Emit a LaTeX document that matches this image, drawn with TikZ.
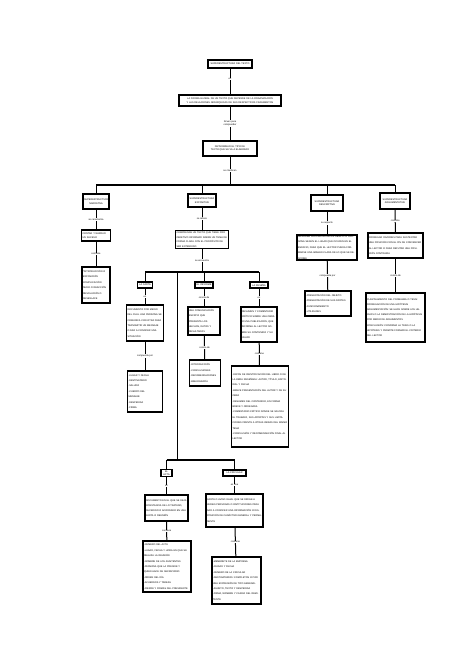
\documentclass[tikz,border=0pt]{standalone}
\usepackage{fontspec}
\setmainfont{Liberation Sans}

\begin{document}
\begin{tikzpicture}[x=1pt, y=-1pt,
  box/.style={draw, line width=1.4pt, inner sep=1pt, align=left,
    font=\fontsize{2.4}{4.6}\selectfont},
  tbox/.style={box, align=center, font=\fontsize{2.4}{3.6}\selectfont},
  lbl/.style={fill=white, inner sep=0.6pt, align=center,
    font=\fontsize{2.4}{3.4}\selectfont},
  conn/.style={line width=1pt},
  busline/.style={line width=1.2pt}]
  \useasboundingbox (0,0) rectangle (474,670);

  \node[tbox, text width=42pt, minimum height=8pt] (text) at (230,64) {SUPERESTRUCTURA DEL TEXTO};
  \node[tbox, text width=100pt, minimum height=11pt] (forma) at (230,100.5)
    {LA FORMA GLOBAL DE UN TEXTO QUE DEPENDE DE LA ORGANIZACIÓN Y LAS RELACIONES JERÁRQUICAS DE SUS RESPECTIVOS FRAGMENTOS};
  \node[tbox, text width=52pt, minimum height=15pt] (tipo) at (230,148.5)
    {DETERMINAR EL TIPO DE TEXTO QUE SE VA A ELABORAR};
  \coordinate (bus) at (0,185);

  % narrativa
  \node[tbox, text width=24pt, minimum height=15pt] (narr) at (96,201.5) {SUPERESTRUCTURA\\NARRATIVA};
  \node[box, text width=27pt, minimum height=11pt] (contar) at (96,235.5) {CONTAR Y NARRAR\\UN SUCESO};
  \node[box, text width=26pt, minimum height=36pt, font=\fontsize{2.4}{5.4}\selectfont] (partesn) at (96,285)
    {*INTRODUCCIÓN O\\EXPOSICIÓN\\*COMPLICACIÓN\\*NUDO O REACCIÓN\\*RESOLUCIÓN O\\DESENLACE};

  % expositiva
  \node[tbox, text width=26pt, minimum height=13pt] (expo) at (202,200.5) {SUPERESTRUCTURA\\EXPOSITIVA};
  \node[box, text width=51pt, minimum height=17pt] (informar) at (202,239.5)
    {COMPRENDE UN TEXTO QUE TIENE POR OBJETIVO INFORMAR SOBRE UN TEMA DE FORMA CLARA CON EL PROPÓSITO DE SER ENTENDIDO};
  \coordinate (sbus) at (0,272);
  \coordinate (trunk) at (177,272);
  \coordinate (tbus) at (0,460);

  \node[tbox, text width=13pt, minimum height=6pt] (carta) at (145,285) {LA CARTA};
  \node[box, text width=35pt, minimum height=36pt, font=\fontsize{2.4}{5.4}\selectfont] (cartadef) at (145,323)
    {DOCUMENTO POR MEDIO DEL CUAL UNA PERSONA SE COMUNICA CON OTRA PARA TRANSMITIR UN MENSAJE O DAR A CONOCER UNA SITUACIÓN};
  \node[box, text width=33pt, minimum height=41pt, font=\fontsize{2.4}{5.4}\selectfont] (cartapartes) at (145,391.5)
    {-LUGAR Y FECHA\\-DESTINATARIO\\-SALUDO\\-CUERPO DEL\\MENSAJE\\-DESPEDIDA\\-FIRMA};

  \node[tbox, text width=16pt, minimum height=6pt] (informe) at (204,285) {EL INFORME};
  \node[box, text width=30pt, minimum height=28pt, font=\fontsize{2.4}{5.2}\selectfont] (informedef) at (204,321)
    {UNA COMUNICACIÓN\\ESCRITA QUE\\PRESENTA LOS\\HECHOS, DATOS Y\\RESULTADOS};
  \node[box, text width=29pt, minimum height=26pt, font=\fontsize{2.4}{5.4}\selectfont] (informepartes) at (205,373)
    {-INTRODUCCIÓN\\-CONCLUSIONES\\-RECOMENDACIONES\\-BIBLIOGRAFÍA};

  \node[tbox, text width=16pt, minimum height=6pt] (resena) at (259,285) {LA RESEÑA};
  \node[box, text width=34pt, minimum height=35pt, font=\fontsize{2.4}{5.2}\selectfont] (resenadef) at (259,324.5)
    {RESUMEN Y COMENTARIO CRÍTICO SOBRE UNA OBRA O UNA PUBLICACIÓN, QUE INFORMA AL LECTOR SOBRE SU CONTENIDO Y SU VALOR};
  \node[box, text width=55pt, minimum height=81pt, font=\fontsize{2.4}{5.4}\selectfont] (resenapartes) at (260,406.5)
    {-DATOS DE IDENTIFICACIÓN DEL LIBRO O DE LA OBRA RESEÑADA: AUTOR, TÍTULO, EDITORIAL Y FECHA\\
     -BREVE PRESENTACIÓN DEL AUTOR Y DE SU OBRA\\
     -RESUMEN DEL CONTENIDO, EN FORMA BREVE Y ORDENADA\\
     -COMENTARIO CRÍTICO DONDE SE VALORA EL TRABAJO, SUS APORTES Y SUS LIMITACIONES FRENTE A OTRAS OBRAS DEL MISMO TEMA\\
     -CONCLUSIÓN Y RECOMENDACIÓN FINAL AL LECTOR};

  \node[tbox, text width=9pt, minimum height=6pt] (acta) at (166.5,473) {EL ACTA};
  \node[box, text width=41pt, minimum height=26pt, font=\fontsize{2.4}{5.2}\selectfont] (actadef) at (166.5,508)
    {DOCUMENTO EN EL QUE SE DEJA CONSTANCIA DE LO TRATADO, SUCEDIDO O ACORDADO EN UNA JUNTA O REUNIÓN};
  \node[box, text width=46pt, minimum height=51pt, font=\fontsize{2.4}{5.4}\selectfont] (actapartes) at (167,566.5)
    {-NÚMERO DEL ACTA\\-LUGAR, FECHA Y HORA EN QUE SE\\REALIZA LA REUNIÓN\\-NOMBRE DE LOS ASISTENTES\\-PERSONA QUE LA PRESIDE Y\\QUIEN HACE DE SECRETARIO\\-ORDEN DEL DÍA\\-ACUERDOS Y TAREAS\\-CIERRE Y FIRMAS DEL PRESIDENTE};

  \node[tbox, text width=21pt, minimum height=6pt] (circ) at (234.5,473) {LA CIRCULAR};
  \node[box, text width=55pt, minimum height=33pt, font=\fontsize{2.4}{5.4}\selectfont] (circdef) at (234.5,510.5)
    {CARTA O AVISO IGUAL QUE SE DIRIGE A VARIAS PERSONAS O INSTITUCIONES PARA DAR A CONOCER UNA INFORMACIÓN O DISPOSICIÓN DE CARÁCTER GENERAL Y PERMANENTE};
  \node[box, text width=47pt, minimum height=47pt, font=\fontsize{2.4}{5.4}\selectfont] (circpartes) at (236.5,580.5)
    {-MEMBRETE DE LA EMPRESA\\-CIUDAD Y FECHA\\-NÚMERO DE LA CIRCULAR\\-DESTINATARIOS: COMPLETOS O POR UNA EXPRESIÓN DE TIPO GENERAL\\-ASUNTO, TEXTO Y DESPEDIDA\\-FIRMA, NOMBRE Y CARGO DEL REMITENTE};

  % descriptiva
  \node[tbox, text width=30pt, minimum height=16pt] (desc) at (327,203) {SUPERESTRUCTURA\\DESCRIPTIVA};
  \node[box, text width=58pt, minimum height=25pt, font=\fontsize{2.4}{5.4}\selectfont] (describe) at (327,247.5)
    {DESCRIBE LAS PARTES DE UN OBJETO O PERSONA SEGÚN EL LUGAR QUE OCUPAN EN EL ESPACIO, PARA QUE EL LECTOR PUEDA FORMARSE UNA IMAGEN CLARA DE LO QUE SE DESCRIBE};
  \node[box, text width=44pt, minimum height=25pt, font=\fontsize{2.4}{5.4}\selectfont] (partesd) at (328,303.5)
    {-PRESENTACIÓN DEL OBJETO\\-PRESENTACIÓN DE SUS PARTES\\-FUNCIONAMIENTO\\-UTILIDADES};

  % argumentativa
  \node[tbox, text width=28pt, minimum height=16pt] (arg) at (395,201) {SUPERESTRUCTURA\\ARGUMENTATIVA};
  \node[box, text width=53pt, minimum height=25pt, font=\fontsize{2.4}{5.4}\selectfont] (razones) at (395.5,245.5)
    {FORMULAR RAZONES PARA SUSTENTAR UNA POSICIÓN CON EL FIN DE CONVENCER AL LECTOR O PARA REFUTAR UNA POSICIÓN CONTRARIA};
  \node[box, text width=57pt, minimum height=49pt, font=\fontsize{2.4}{5.2}\selectfont] (partesa) at (395.5,317.5)
    {PLANTEAMIENTO DEL PROBLEMA O TESIS: FORMULACIÓN DE UNA HIPÓTESIS\\ARGUMENTACIÓN: SE HACE SOBRE LOS HECHOS O LA DEMOSTRACIÓN DE LA HIPÓTESIS POR MEDIO DE ARGUMENTOS\\CONCLUSIÓN: CONFIRMA LA TESIS O LA HIPÓTESIS Y PERMITE FORMAR EL CRITERIO DEL LECTOR};

  \draw[conn] (text) -- node[lbl, pos=0.4]{es} (forma);
  \draw[conn] (forma) -- node[lbl]{Sirven para\\comprender} (tipo);
  \draw[conn] (tipo) -- node[lbl]{se clasifican} (tipo |- bus);
  \draw[busline] (narr |- bus) -- (arg |- bus);
  \foreach \n in {narr, expo, desc, arg}
    \draw[conn] (\n |- bus) -- (\n);

  \draw[conn] (narr) -- node[lbl]{se caracteriza} (contar);
  \draw[conn] (contar) -- node[lbl]{contiene} (partesn);

  \draw[conn] (expo) -- node[lbl]{se refiere} (informar);
  \draw[conn] (informar) -- node[lbl]{se encuentra} (informar |- sbus);
  \draw[busline] (carta |- sbus) -- (resena |- sbus);
  \foreach \n in {carta, informe, resena}
    \draw[conn] (\n |- sbus) -- (\n);
  \draw[conn] (carta) -- node[lbl]{es} (cartadef);
  \draw[conn] (cartadef) -- node[lbl]{compuesta por} (cartapartes);
  \draw[conn] (informe) -- node[lbl]{consta de} (informedef);
  \draw[conn] (informedef) -- node[lbl]{consta de} (informepartes);
  \draw[conn] (resena) -- node[lbl]{es} (resenadef);
  \draw[conn] (resenadef) -- node[lbl]{contiene} (resenapartes);

  \draw[conn] (trunk) -- (trunk |- tbus);
  \draw[busline] (acta |- tbus) -- (circ |- tbus);
  \foreach \n in {acta, circ}
    \draw[conn] (\n |- tbus) -- (\n);
  \draw[conn] (acta) -- node[lbl]{es} (actadef);
  \draw[conn] (actadef) -- node[lbl]{contiene} (actapartes);
  \draw[conn] (circ) -- node[lbl]{es una} (circdef);
  \draw[conn] (circdef) -- node[lbl]{contiene} (circpartes);

  \draw[conn] (desc) -- node[lbl]{su aspecto} (describe);
  \draw[conn] (describe) -- node[lbl]{compuesta por} (partesd);
  \draw[conn] (arg) -- node[lbl]{consiste} (razones);
  \draw[conn] (razones) -- node[lbl]{consta de} (partesa);
\end{tikzpicture}
\end{document}
